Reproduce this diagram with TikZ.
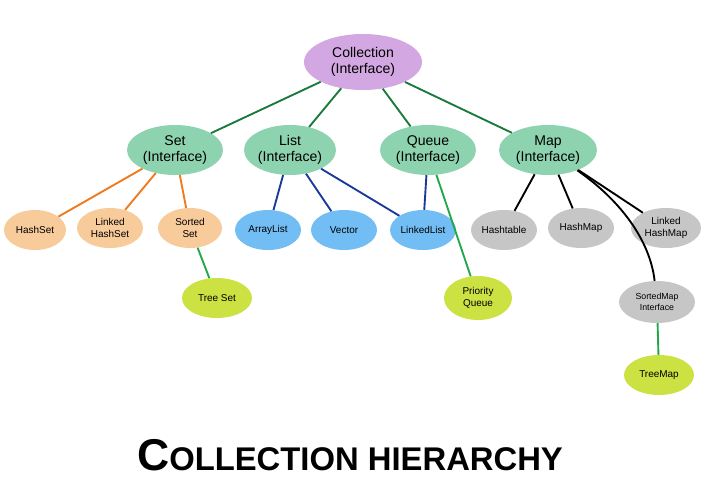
\documentclass[tikz,border=0pt]{standalone}
\usepackage{fontspec}
\setmainfont{Liberation Sans}
\usetikzlibrary{shapes.geometric}
\definecolor{cpurp}{HTML}{D3A8E2}
\definecolor{cgreen}{HTML}{8ED3AF}
\definecolor{corange}{HTML}{F8CB9B}
\definecolor{clime}{HTML}{CCE242}
\definecolor{cblue}{HTML}{72BEF4}
\definecolor{cgray}{HTML}{C6C6C6}
\definecolor{lgreen}{HTML}{1A7A3C}
\definecolor{lorange}{HTML}{F07A1E}
\definecolor{lblue}{HTML}{1A3A9A}
\definecolor{llime}{HTML}{22A84A}
\tikzset{
 el/.style={ellipse,inner sep=0pt,align=center,font=\fontsize{8.5}{10}\selectfont},
 big/.style={el,font=\fontsize{12}{13.5}\selectfont},
 ge/.style={line width=1.6pt,lgreen},
 oe/.style={line width=1.6pt,lorange},
 be/.style={line width=1.6pt,lblue},
 ke/.style={line width=1.6pt,black},
 le/.style={line width=1.6pt,llime},
}
\begin{document}
\begin{tikzpicture}[x=0.03cm,y=-0.03cm]
\useasboundingbox (0,0) rectangle (708,503);
\fill[white] (0,0) rectangle (708,503);
\node[big,fill=cpurp,minimum width=118*0.03cm,minimum height=56*0.03cm] (col) at (363,62) {Collection\\(Interface)};
\node[big,fill=cgreen,minimum width=96*0.03cm,minimum height=50*0.03cm] (set) at (175,150) {Set\\(Interface)};
\node[big,fill=cgreen,minimum width=92*0.03cm,minimum height=50*0.03cm] (list) at (290,150) {List\\(Interface)};
\node[big,fill=cgreen,minimum width=96*0.03cm,minimum height=50*0.03cm] (queue) at (428,150) {Queue\\(Interface)};
\node[big,fill=cgreen,minimum width=98*0.03cm,minimum height=50*0.03cm] (map) at (548,150) {Map\\(Interface)};
\begin{scope}[every node/.style={minimum height=40*0.03cm,minimum width=66*0.03cm}]
\node[el,fill=corange,minimum width=62*0.03cm] (hs) at (35,230) {HashSet};
\node[el,fill=corange] (lhs) at (110,228) {Linked\\HashSet};
\node[el,fill=corange,minimum width=64*0.03cm] (ss) at (190,228) {Sorted\\Set};
\node[el,fill=clime,minimum width=70*0.03cm] (ts) at (217,298) {Tree Set};
\node[el,fill=cblue] (al) at (268,230) {ArrayList};
\node[el,fill=cblue] (vec) at (344,230) {Vector};
\node[el,fill=cblue] (ll) at (423,230) {LinkedList};
\node[el,fill=clime,minimum width=68*0.03cm,minimum height=44*0.03cm] (pq) at (478,298) {Priority\\Queue};
\node[el,fill=cgray] (ht) at (504,230) {Hashtable};
\node[el,fill=cgray] (hm) at (581,228) {HashMap};
\node[el,fill=cgray,minimum width=70*0.03cm] (lhm) at (666,228) {Linked\\HashMap};
\node[el,fill=cgray,minimum width=76*0.03cm,minimum height=42*0.03cm,font=\fontsize{7.5}{9}\selectfont] (sm) at (657,302) {SortedMap\\Interface};
\node[el,fill=clime,minimum width=70*0.03cm] (tm) at (659,375) {TreeMap};
\end{scope}
\draw[ge] (col) -- (set); \draw[ge] (col) -- (list); \draw[ge] (col) -- (queue); \draw[ge] (col) -- (map);
\draw[oe] (set) -- (hs); \draw[oe] (set) -- (lhs); \draw[oe] (set) -- (ss);
\draw[le] (ss) -- (ts);
\draw[be] (list) -- (al); \draw[be] (list) -- (vec); \draw[be] (list) -- (ll); \draw[be] (queue) -- (ll);
\draw[le] (queue) -- (pq);
\draw[ke] (map) -- (ht); \draw[ke] (map) -- (hm); \draw[ke] (map) -- (lhm);
\draw[ke] (map) .. controls (620,200) and (650,240) .. (sm);
\draw[le] (sm) -- (tm);
\node[font=\bfseries\fontsize{38}{40}\selectfont] (title) at (350,455) {C{\fontsize{28}{30}\selectfont OLLECTION HIERARCHY}};
\end{tikzpicture}
\end{document}
